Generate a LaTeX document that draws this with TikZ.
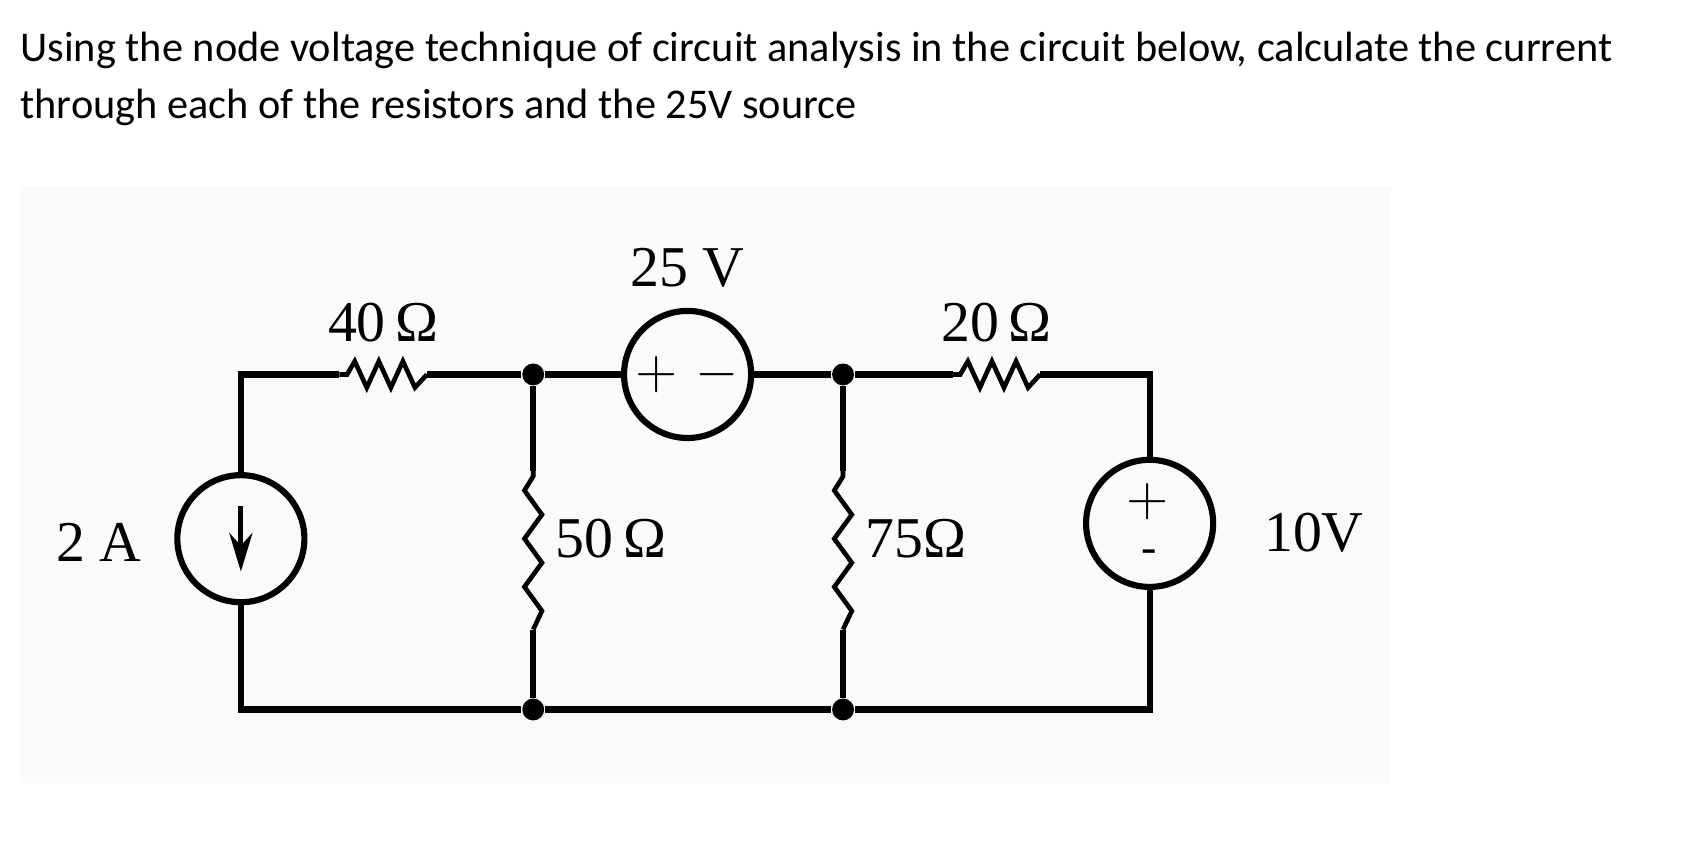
\documentclass[tikz,border=0pt]{standalone}
\usepackage{fontspec}
\setmainfont{Liberation Serif}
\newfontfamily\titlefont{Carlito}
\usetikzlibrary{arrows.meta}
\begin{document}
\begin{tikzpicture}[x=0.01cm,y=-0.01cm,
  wire/.style={line width=1.6pt},
  src/.style={draw,circle,line width=1.6pt,minimum size=1.16cm,inner sep=0pt},
  lbl/.style={font=\fontsize{15pt}{16pt}\selectfont,inner sep=0pt},
  dot/.style={circle,fill,inner sep=0pt,minimum size=0.2cm},
  res/.style={line width=1.2pt}]
\useasboundingbox (0,0) rectangle (1560,784);
\fill[black!2] (18,170) rectangle (1270,715);
\node[anchor=base west,font=\titlefont\fontsize{11pt}{14pt}\selectfont,inner sep=0pt] (t1) at (18,56) {Using the node voltage technique of circuit analysis in the circuit below, calculate the current};
\node[anchor=base west,font=\titlefont\fontsize{11pt}{14pt}\selectfont,inner sep=0pt] (t2) at (18,108) {through each of the resistors and the 25V source};
% nodes
\coordinate (tl) at (220,342); \coordinate (bl) at (220,648);
\node[dot] (n1) at (487,342) {}; \node[dot] (n2) at (770,342) {};
\node[dot] (b1) at (487,648) {}; \node[dot] (b2) at (770,648) {};
\coordinate (tr) at (1050,342); \coordinate (br) at (1050,648);
\node[src] (I) at (220,492) {};
\node[src] (V25) at (628,342) {};
\node[src] (V10) at (1050,478) {};
\coordinate (r1a) at (310,342); \coordinate (r1b) at (390,342);
\coordinate (r2a) at (870,342); \coordinate (r2b) at (950,342);
\coordinate (r3a) at (487,430); \coordinate (r3b) at (487,575);
\coordinate (r4a) at (770,430); \coordinate (r4b) at (770,575);
% wires
\draw[wire] (I.north) -- (tl) -- (r1a);
\draw[wire] (r1b) -- (n1) -- (V25.west);
\draw[wire] (V25.east) -- (n2) -- (r2a);
\draw[wire] (r2b) -- (tr) -- (V10.north);
\draw[wire] (V10.south) -- (br) -- (b2) -- (b1) -- (bl) -- (I.south);
\draw[wire] (n1) -- (r3a); \draw[wire] (r3b) -- (b1);
\draw[wire] (n2) -- (r4a); \draw[wire] (r4b) -- (b2);
% resistors
\draw[res] (r1a) -- ++(7,0) -- ++(7,-12) -- ++(11,24) -- ++(11,-24) -- ++(11,24) -- ++(11,-24) -- ++(11,24) -- (r1b);
\draw[res] (r2a) -- ++(7,0) -- ++(7,-12) -- ++(11,24) -- ++(11,-24) -- ++(11,24) -- ++(11,-24) -- ++(11,24) -- (r2b);
\draw[res] (r3a) -- ++(0,5) -- ++(-8,13) -- ++(16,22) -- ++(-16,22) -- ++(16,22) -- ++(-16,22) -- ++(16,22) -- (r3b);
\draw[res] (r4a) -- ++(0,5) -- ++(-8,13) -- ++(16,22) -- ++(-16,22) -- ++(16,22) -- ++(-16,22) -- ++(16,22) -- (r4b);
% source symbols
\draw[line width=1.3pt,-{Stealth[length=10pt,width=6pt]}] ([yshift=0.3cm]I.center) -- ([yshift=-0.3cm]I.center);
\node[font=\fontsize{14pt}{14pt}\selectfont] (p25) at (600,342) {$+$};
\node[font=\fontsize{14pt}{14pt}\selectfont] (m25) at (655,342) {$-$};
\node[font=\fontsize{14pt}{14pt}\selectfont] (p10) at (1048,458) {$+$};
\node[font=\fontsize{12pt}{12pt}\selectfont] (m10) at (1050,508) {-};
% labels
\node[lbl] (l40) at (350,295) {40\,Ω};
\node[lbl] (l25) at (628,245) {25 V};
\node[lbl] (l20) at (910,295) {20\,Ω};
\node[lbl,anchor=west] (l50) at (507,492) {50\,Ω};
\node[lbl,anchor=west] (l75) at (790,492) {75Ω};
\node[lbl] (l2A) at (90,495) {2 A};
\node[lbl] (l10) at (1200,487) {10V};
\end{tikzpicture}
\end{document}
